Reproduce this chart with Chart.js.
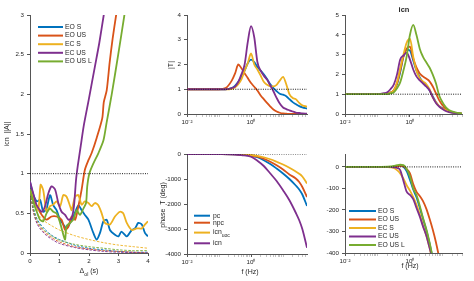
<!DOCTYPE html>
<html><head><meta charset="utf-8">
<script src="https://cdn.jsdelivr.net/npm/chart.js@4.4.1/dist/chart.umd.min.js"></script>
<style>
html,body{margin:0;padding:0;background:#fff;width:474px;height:281px;overflow:hidden}
canvas{position:absolute;left:0;top:0}
</style></head><body>
<canvas id="pLeft" width="474" height="281"></canvas>
<canvas id="pMidTop" width="474" height="281"></canvas>
<canvas id="pMidBot" width="474" height="281"></canvas>
<canvas id="pRightTop" width="474" height="281"></canvas>
<canvas id="pRightBot" width="474" height="281"></canvas>
<script>
// ---------------- DATA ----------------
const conditionNames = ['EO S', 'EO US', 'EC S', 'EC US', 'EO US L'];
const controllerNames = ['pc', 'npc', 'icn_{uoc}', 'icn'];

// Left panel: icn ||A|| vs Delta_ol (s)
const eoS_dt   = [0, 0.1, 0.23, 0.34, 0.45, 0.56, 0.68, 0.79, 0.9, 1.02, 1.13, 1.24, 1.36, 1.47, 1.64, 1.75, 1.86, 1.98, 2.15, 2.26, 2.37, 2.49, 2.6, 2.71, 2.88, 3.0, 3.1, 3.28, 3.45, 3.56, 3.67, 3.79, 3.9, 4.0];
const eoS_icn  = [0.9, 0.75, 0.65, 0.67, 0.52, 0.56, 0.73, 0.6, 0.54, 0.42, 0.36, 0.31, 0.38, 0.46, 0.6, 0.54, 0.48, 0.42, 0.25, 0.17, 0.25, 0.4, 0.42, 0.29, 0.23, 0.21, 0.27, 0.21, 0.29, 0.31, 0.38, 0.36, 0.25, 0.21];
const eoUS_dt  = [0, 0.11, 0.23, 0.4, 0.56, 0.73, 0.9, 1.07, 1.19, 1.3, 1.41, 1.53, 1.64, 1.75, 1.86, 1.98, 2.09, 2.26, 2.45, 2.5, 2.6, 2.7, 2.8, 2.92, 2.96];
const eoUS_icn = [0.8, 0.67, 0.59, 0.48, 0.42, 0.46, 0.46, 0.42, 0.29, 0.33, 0.46, 0.42, 0.59, 0.8, 1.05, 1.17, 1.26, 1.45, 1.7, 1.9, 2.05, 2.4, 2.7, 3.0, 3.1];
const ecS_dt   = [0, 0.17, 0.28, 0.36, 0.45, 0.56, 0.68, 0.79, 0.9, 1.02, 1.13, 1.24, 1.36, 1.41, 1.53, 1.64, 1.75, 1.86, 1.98, 2.09, 2.2, 2.32, 2.43, 2.54, 2.71, 2.88, 3.05, 3.16, 3.28, 3.45, 3.62, 3.79, 3.9, 4.0];
const ecS_icn  = [0.79, 0.65, 0.54, 0.86, 0.79, 0.52, 0.59, 0.61, 0.65, 0.59, 0.73, 0.71, 0.59, 0.54, 0.71, 0.73, 0.61, 0.65, 0.63, 0.59, 0.63, 0.6, 0.5, 0.38, 0.36, 0.46, 0.52, 0.5, 0.38, 0.29, 0.31, 0.31, 0.36, 0.4];
const ecUS_dt  = [0, 0.11, 0.23, 0.4, 0.51, 0.62, 0.73, 0.85, 0.96, 1.07, 1.19, 1.3, 1.41, 1.49, 1.56, 1.62, 1.72, 1.82, 2.0, 2.2, 2.35, 2.5, 2.55];
const ecUS_icn = [0.9, 0.75, 0.6, 0.52, 0.59, 0.75, 0.84, 0.8, 0.63, 0.52, 0.48, 0.42, 0.44, 0.59, 0.92, 1.1, 1.35, 1.6, 1.95, 2.35, 2.65, 3.0, 3.1];
const eoUL_dt  = [0, 0.11, 0.23, 0.34, 0.45, 0.56, 0.68, 0.79, 0.9, 1.02, 1.13, 1.19, 1.24, 1.36, 1.47, 1.58, 1.69, 1.81, 1.9, 1.94, 2.01, 2.15, 2.32, 2.49, 2.6, 2.77, 2.99, 3.2, 3.24];
const eoUL_icn = [0.8, 0.65, 0.52, 0.42, 0.4, 0.5, 0.56, 0.52, 0.5, 0.38, 0.23, 0.17, 0.34, 0.38, 0.42, 0.54, 0.48, 0.56, 0.63, 0.84, 1.0, 1.13, 1.26, 1.42, 1.65, 2.0, 2.5, 3.0, 3.1];
// dashed lower curves
const boundDt    = [0, 0.1, 0.25, 0.5, 0.75, 1, 1.5, 2, 2.5, 3, 3.5, 4];
const eoS_bound  = [0.85, 0.6, 0.42, 0.3, 0.22, 0.17, 0.1, 0.06, 0.04, 0.02, 0.01, 0.01];
const eoUS_bound = [0.8, 0.55, 0.38, 0.26, 0.19, 0.14, 0.08, 0.05, 0.03, 0.02, 0.01, 0.0];
const ecS_bound  = [0.85, 0.65, 0.5, 0.4, 0.34, 0.29, 0.22, 0.17, 0.13, 0.1, 0.08, 0.06];
const ecUS_bound = [0.85, 0.55, 0.36, 0.24, 0.17, 0.12, 0.07, 0.04, 0.02, 0.01, 0.005, 0];
const eoUL_bound = [0.8, 0.58, 0.4, 0.28, 0.21, 0.16, 0.11, 0.08, 0.06, 0.04, 0.03, 0.03];
const leftRefX = [0, 4];
const leftRefY = [1, 1];

// Middle panels: |T| and phase T vs f (Hz)
const midF   = [0.01, 0.1, 0.16, 0.25, 0.32, 0.4, 0.5, 0.63, 0.79, 1, 1.26, 1.58, 2, 2.5, 3.2, 4, 5, 6.3, 7.9, 10, 12.6, 15.8, 20, 25, 32, 40, 56];
const pcMag  = [1, 1, 1.0, 1.05, 1.15, 1.3, 1.5, 1.75, 2.05, 2.2, 2.1, 1.9, 1.75, 1.6, 1.4, 1.2, 1.05, 0.92, 0.82, 0.78, 0.72, 0.6, 0.48, 0.4, 0.32, 0.27, 0.22];
const npcMag = [1, 1, 1.05, 1.35, 1.65, 2.0, 1.85, 1.65, 1.45, 1.25, 1.1, 0.95, 0.75, 0.6, 0.44, 0.3, 0.18, 0.1, 0.05, 0.02, 0.01, 0, 0, 0, 0, 0, 0];
const uocMag = [1, 1, 1, 1.02, 1.08, 1.2, 1.4, 1.75, 2.05, 2.45, 2.0, 1.8, 1.55, 1.3, 1.18, 1.12, 1.12, 1.18, 1.35, 1.5, 1.2, 0.8, 0.65, 0.6, 0.45, 0.35, 0.3];
const icnMag = [1, 1, 1.0, 1.05, 1.12, 1.3, 1.6, 2.0, 2.9, 3.55, 3.1, 2.1, 1.75, 1.55, 1.38, 1.15, 0.92, 0.65, 0.42, 0.26, 0.2, 0.15, 0.1, 0.06, 0.04, 0.02, 0.01];
const phF    = [0.01, 0.1, 0.32, 0.5, 1, 1.58, 2.5, 4, 6.3, 10, 15.8, 25, 32, 40, 56];
const pcPh   = [0, -5, -15, -30, -70, -130, -250, -400, -580, -780, -1000, -1260, -1420, -1620, -2080];
const npcPh  = [0, -3, -12, -25, -60, -110, -190, -310, -450, -620, -820, -980, -1120, -1320, -1720];
const uocPh  = [0, -2, -8, -15, -40, -75, -130, -210, -310, -420, -550, -700, -790, -900, -1180];
const icnPh  = [0, -5, -20, -45, -110, -270, -480, -780, -1080, -1450, -1850, -2350, -2650, -3000, -3750];
const midRefX = [0.01, 56];

// Right panels: icn |T| and phase for each condition
const rF       = [0.01, 0.1, 0.16, 0.2, 0.25, 0.32, 0.4, 0.5, 0.63, 0.79, 1, 1.26, 1.58, 2, 2.5, 3.2, 4, 5, 6.3, 7.9, 10, 12.6, 15.8, 25, 40];
const eoS_mag  = [1, 1, 1.0, 1.02, 1.08, 1.2, 1.5, 2.1, 2.9, 3.25, 3.2, 2.7, 2.2, 1.85, 1.6, 1.4, 1.2, 0.9, 0.6, 0.4, 0.3, 0.2, 0.12, 0.05, 0.02];
const eoUS_mag = [1, 1, 1.0, 1.02, 1.08, 1.2, 1.55, 2.2, 2.9, 3.3, 3.4, 2.8, 2.35, 2.05, 1.9, 1.78, 1.65, 1.4, 1.05, 0.7, 0.45, 0.25, 0.15, 0.06, 0.02];
const ecS_mag  = [1, 1, 1.0, 1.02, 1.08, 1.2, 1.6, 2.3, 3.0, 3.6, 3.8, 2.9, 2.2, 1.8, 1.65, 1.5, 1.25, 0.85, 0.6, 0.4, 0.28, 0.2, 0.12, 0.05, 0.02];
const ecUS_mag = [1, 1, 1.05, 1.1, 1.25, 1.5, 2.0, 2.75, 2.95, 3.1, 2.75, 2.25, 1.9, 1.7, 1.55, 1.38, 1.2, 0.85, 0.55, 0.38, 0.25, 0.15, 0.1, 0.04, 0.01];
const eoUL_mag = [1, 1, 1.0, 1.0, 1.04, 1.1, 1.3, 1.6, 2.2, 2.9, 4.0, 4.5, 4.0, 3.3, 2.9, 2.6, 2.35, 2.0, 1.55, 0.95, 0.6, 0.35, 0.2, 0.08, 0.02];
const rpF      = [0.01, 0.1, 0.25, 0.32, 0.4, 0.5, 0.63, 0.79, 1, 1.26, 1.58, 2, 2.5, 3.2, 4, 5, 6.3, 7.9, 10, 40];
const eoS_ph   = [0, 0, 0, 2, 5, 6, 0, -20, -60, -105, -140, -190, -240, -295, -355, -425, -500, -580, -660, -1200];
const eoUS_ph  = [0, 0, 0, 0, 3, 5, 3, -10, -30, -80, -115, -135, -158, -195, -240, -290, -350, -420, -500, -1100];
const ecS_ph   = [0, 0, -2, -5, -15, -30, -55, -85, -110, -140, -175, -220, -270, -320, -375, -440, -510, -590, -670, -1200];
const ecUS_ph  = [0, 0, 0, -2, -5, -15, -65, -115, -130, -150, -190, -230, -275, -320, -375, -430, -490, -560, -640, -1200];
const eoUL_ph  = [0, 0, 2, 5, 8, 10, 8, -10, -45, -100, -130, -180, -235, -290, -350, -420, -490, -570, -650, -1200];
const rightRefX = [0.01, 40];

// Tick values / labels
const leftXTicks = [0, 1, 2, 3, 4];
const leftYTicks = [0, 0.5, 1, 1.5, 2, 2.5, 3];
const logTickValues = [0.01, 1];
const logTickLabels = ['10\u207B\u00B2', '10\u2070'];
const midMagTicks = [0, 1, 2, 3, 4];
const midPhTicks = [-4000, -3000, -2000, -1000, 0];
const rightMagTicks = [0, 1, 2, 3, 4, 5];
const rightPhTicks = [-400, -300, -200, -100, 0];

// ---------------- STYLE ----------------
const W = 474, H = 281;
const FONT = '"Liberation Sans", Arial, Helvetica, sans-serif';
const colors = ['#0072BD', '#D95319', '#EDB120', '#7E2F8E', '#77AC30'];
const AXIS = '#555555', TXT = '#262626';
Chart.defaults.font.family = FONT;
Chart.defaults.color = TXT;

const pts = (xs, ys) => xs.map((x, i) => ({ x, y: ys[i] }));

function parseRich(s) {
  const parts = []; const re = /_\{([^}]*)\}/g; let last = 0, m;
  while ((m = re.exec(s))) {
    if (m.index > last) parts.push({ t: s.slice(last, m.index) });
    parts.push({ t: m[1], sub: true }); last = re.lastIndex;
  }
  if (last < s.length) parts.push({ t: s.slice(last) });
  return parts;
}
function drawRich(ctx, s, x, y, size, align, weight) {
  const parts = parseRich(s);
  const fontFor = p => `${weight || 'normal'} ${p.sub ? size * 0.75 : size}px ${FONT}`;
  let w = 0;
  parts.forEach(p => { ctx.font = fontFor(p); p.w = ctx.measureText(p.t).width; w += p.w; });
  let cx = align === 'center' ? x - w / 2 : x;
  ctx.textAlign = 'left'; ctx.textBaseline = 'middle'; ctx.fillStyle = TXT;
  parts.forEach(p => { ctx.font = fontFor(p); ctx.fillText(p.t, cx, p.sub ? y + size * 0.4 : y); cx += p.w; });
}

const overlay = {
  id: 'overlay',
  afterDraw(chart, args, opts) {
    const ctx = chart.ctx;
    (opts.texts || []).forEach(t => {
      ctx.save();
      ctx.translate(t.x, t.y);
      if (t.rot) ctx.rotate(t.rot);
      drawRich(ctx, t.text, 0, 0, t.size || 7, 'center', t.weight);
      ctx.restore();
    });
    const L = opts.legend;
    if (L) {
      let k = 0;
      chart.data.datasets.forEach(ds => {
        if (!ds.legendLabel) return;
        const y = L.rows[k++];
        ctx.save();
        ctx.strokeStyle = ds.borderColor; ctx.lineWidth = 2;
        ctx.beginPath(); ctx.moveTo(L.x0, y); ctx.lineTo(L.x1, y); ctx.stroke();
        drawRich(ctx, ds.legendLabel, L.tx, y, L.size || 6.8, 'left');
        ctx.restore();
      });
    }
  }
};

function solid(label, xs, ys, color, i) {
  return { legendLabel: label, data: pts(xs, ys), borderColor: color, borderWidth: 1.8,
    pointRadius: 0, fill: false, tension: 0.25, order: -i };
}
function smooth(label, xs, ys, color, i) {
  return { legendLabel: label, data: pts(xs, ys), borderColor: color, borderWidth: 1.8,
    pointRadius: 0, fill: false, cubicInterpolationMode: 'monotone', order: -i };
}
function dashed(xs, ys, color, i) {
  return { data: pts(xs, ys), borderColor: color, borderWidth: 0.9, borderDash: [2.5, 1.5],
    pointRadius: 0, fill: false, tension: 0.3, order: 10 - i };
}
function refLine(xs, ys) {
  return { data: pts(xs, ys), borderColor: '#1a1a1a', borderWidth: 1, borderDash: [1, 1.3],
    pointRadius: 0, fill: false, order: -20 };
}

function axisBase() {
  return {
    border: { display: true, color: AXIS, width: 1 },
    grid: { display: true, drawOnChartArea: false, drawTicks: true, tickLength: 3, color: AXIS },
    ticks: { color: TXT, font: { size: 6.2, family: FONT }, padding: 2, maxRotation: 0, minRotation: 0, autoSkip: false }
  };
}
function linAxis(min, max, tickVals, isX) {
  const a = axisBase();
  a.type = 'linear'; a.min = min; a.max = max;
  a.afterBuildTicks = s => { s.ticks = tickVals.map(v => ({ value: v })); };
  a.ticks.callback = v => String(v);
  if (!isX) a.ticks.padding = 3;
  return a;
}
function logAxis(min, max) {
  const a = axisBase();
  a.type = 'logarithmic'; a.min = min; a.max = max;
  a.afterBuildTicks = s => {
    const t = [];
    for (let d = -2; d <= 2; d++) for (let m = 1; m <= 9; m++) {
      const v = +(m * Math.pow(10, d)).toPrecision(3);
      if (v >= min && v <= max) t.push({ value: v, major: logTickValues.includes(v) });
    }
    s.ticks = t;
  };
  a.ticks.callback = v => { const i = logTickValues.indexOf(v); return i >= 0 ? logTickLabels[i] : ''; };
  a.grid.tickColor = c => (c.tick && c.tick.major) ? AXIS : '#9a9a9a';
  a.grid.tickWidth = c => (c.tick && c.tick.major) ? 1 : 0.6;
  return a;
}

function panel(id, area, xAxis, yAxis, datasets, overlayOpts) {
  const yW = 28, xH = 16;
  xAxis.afterFit = s => { s.height = xH; };
  yAxis.afterFit = s => { s.width = yW; };
  return new Chart(document.getElementById(id), {
    type: 'line',
    data: { datasets },
    options: {
      responsive: false, animation: false, devicePixelRatio: 1,
      layout: { padding: { left: area.l - yW, top: area.t, right: W - area.r, bottom: H - area.b - xH } },
      scales: { x: xAxis, y: yAxis },
      plugins: { legend: { display: false }, tooltip: { enabled: false }, title: { display: false }, overlay: overlayOpts }
    },
    plugins: [overlay]
  });
}

// ---------------- LEFT PANEL ----------------
panel('pLeft', { l: 30, r: 148, t: 15, b: 253 },
  linAxis(0, 4, leftXTicks, true), linAxis(0, 3, leftYTicks, false),
  [
    dashed(boundDt, eoS_bound, colors[0], 0),
    dashed(boundDt, eoUS_bound, colors[1], 1),
    dashed(boundDt, ecS_bound, colors[2], 2),
    dashed(boundDt, ecUS_bound, colors[3], 3),
    dashed(boundDt, eoUL_bound, colors[4], 4),
    solid(conditionNames[0], eoS_dt, eoS_icn, colors[0], 0),
    solid(conditionNames[1], eoUS_dt, eoUS_icn, colors[1], 1),
    solid(conditionNames[2], ecS_dt, ecS_icn, colors[2], 2),
    solid(conditionNames[3], ecUS_dt, ecUS_icn, colors[3], 3),
    solid(conditionNames[4], eoUL_dt, eoUL_icn, colors[4], 4),
    refLine(leftRefX, leftRefY)
  ],
  { texts: [ { text: 'icn  ||A||', x: 7, y: 134, rot: -Math.PI / 2 },
             { text: '\u0394_{ol} (s)', x: 89, y: 271.5 } ],
    legend: { x0: 38, x1: 63, tx: 65, rows: [27, 35.6, 44.2, 52.8, 61.4] } });

// ---------------- MIDDLE TOP ----------------
panel('pMidTop', { l: 187, r: 307, t: 15, b: 114 },
  logAxis(0.01, 56), linAxis(0, 4, midMagTicks, false),
  [
    smooth(controllerNames[0], midF, pcMag, colors[0], 0),
    smooth(controllerNames[1], midF, npcMag, colors[1], 1),
    smooth(controllerNames[2], midF, uocMag, colors[2], 2),
    smooth(controllerNames[3], midF, icnMag, colors[3], 3),
    refLine(midRefX, [1, 1])
  ].map(d => { delete d.legendLabel; return d; }),
  { texts: [ { text: '|T|', x: 171, y: 65, rot: -Math.PI / 2 } ] });

// ---------------- MIDDLE BOTTOM ----------------
panel('pMidBot', { l: 187, r: 307, t: 154, b: 254 },
  logAxis(0.01, 56), linAxis(-4000, 0, midPhTicks, false),
  [
    smooth(controllerNames[0], phF, pcPh, colors[0], 0),
    smooth(controllerNames[1], phF, npcPh, colors[1], 1),
    smooth(controllerNames[2], phF, uocPh, colors[2], 2),
    smooth(controllerNames[3], phF, icnPh, colors[3], 3),
    refLine(midRefX, [0, 0])
  ],
  { texts: [ { text: 'phase  T (deg)', x: 163, y: 205, rot: -Math.PI / 2 },
             { text: 'f (Hz)', x: 250, y: 272 } ],
    legend: { x0: 194, x1: 210, tx: 213, rows: [215.7, 222.7, 232.6, 243.3] } });

// ---------------- RIGHT TOP ----------------
panel('pRightTop', { l: 345, r: 462, t: 15, b: 114 },
  logAxis(0.01, 40), linAxis(0, 5, rightMagTicks, false),
  [
    smooth(conditionNames[0], rF, eoS_mag, colors[0], 0),
    smooth(conditionNames[1], rF, eoUS_mag, colors[1], 1),
    smooth(conditionNames[2], rF, ecS_mag, colors[2], 2),
    smooth(conditionNames[3], rF, ecUS_mag, colors[3], 3),
    smooth(conditionNames[4], rF, eoUL_mag, colors[4], 4),
    refLine(rightRefX, [1, 1])
  ].map(d => { delete d.legendLabel; return d; }),
  { texts: [ { text: 'icn', x: 404, y: 9.5, size: 7.5, weight: 'bold' } ] });

// ---------------- RIGHT BOTTOM ----------------
panel('pRightBot', { l: 345, r: 462, t: 154, b: 253 },
  logAxis(0.01, 40), linAxis(-400, 60, rightPhTicks, false),
  [
    smooth(conditionNames[0], rpF, eoS_ph, colors[0], 0),
    smooth(conditionNames[1], rpF, eoUS_ph, colors[1], 1),
    smooth(conditionNames[2], rpF, ecS_ph, colors[2], 2),
    smooth(conditionNames[3], rpF, ecUS_ph, colors[3], 3),
    smooth(conditionNames[4], rpF, eoUL_ph, colors[4], 4),
    refLine(rightRefX, [0, 0])
  ],
  { texts: [ { text: 'f (Hz)', x: 410, y: 266 } ],
    legend: { x0: 349, x1: 376, tx: 378, rows: [211, 219.5, 228, 236.5, 245] } });
</script>
</body></html>
